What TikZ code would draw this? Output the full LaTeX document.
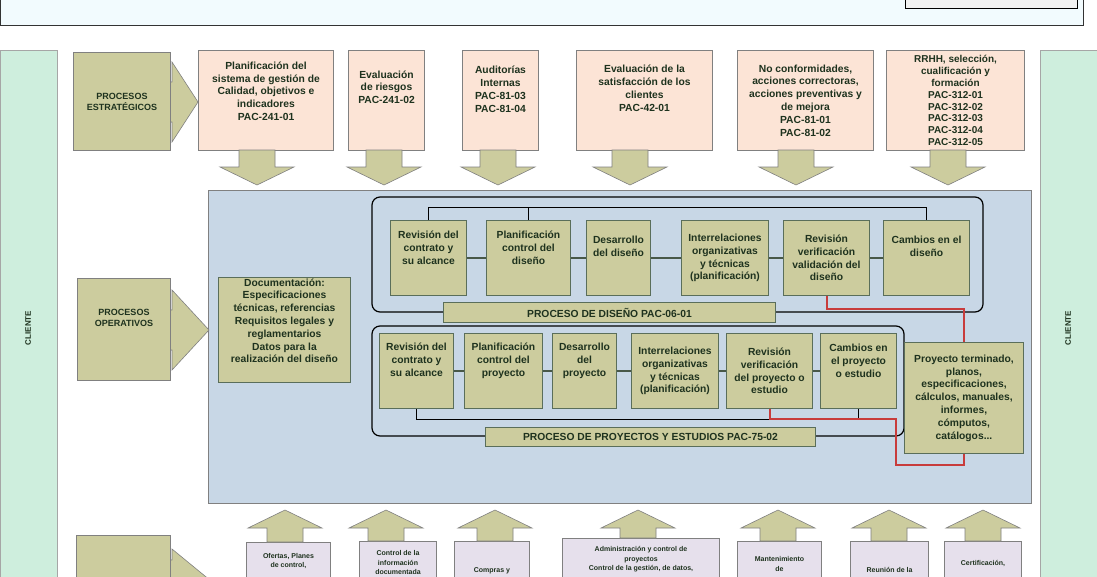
\documentclass[tikz,border=0pt]{standalone}
\usepackage{fontspec}
\setmainfont{Liberation Sans}
\usetikzlibrary{positioning}
\definecolor{khaki}{RGB}{204,204,158}
\definecolor{salmon}{RGB}{252,228,214}
\definecolor{lila}{RGB}{230,224,236}
\definecolor{azul}{RGB}{200,215,230}
\definecolor{verdec}{RGB}{206,238,221}
\definecolor{borde}{RGB}{90,110,90}
\definecolor{texto}{RGB}{30,50,30}
\definecolor{rojo}{RGB}{200,60,60}
\tikzstyle{caja} = [rectangle, draw=borde, fill=khaki, line width=1pt, text=texto, align=center, font=\bfseries\fontsize{10.3}{12.8}\selectfont, inner sep=1pt]
\tikzstyle{estrat} = [caja, fill=salmon, draw=gray]
\tikzstyle{apoyo} = [caja, fill=lila, draw=gray, font=\bfseries\fontsize{7}{9.5}\selectfont]
\tikzstyle{marco} = [draw=black, rounded corners=8pt, line width=1.2pt]
\tikzstyle{enlace} = [draw=borde!80!black, line width=1.2pt]
\tikzstyle{rojal} = [draw=rojo, line width=2pt]
\tikzstyle{flecha} = [draw=gray, fill=khaki, line width=0.6pt]
% block arrow pointing down: x, y top, y tip
\newcommand{\flechaabajo}[3]{\path[flecha] (#1-18,#2) -- (#1+18,#2) -- (#1+18,#3-18) -- (#1+37,#3-18) -- (#1,#3) -- (#1-37,#3-18) -- (#1-18,#3-18) -- cycle;}
% block arrow pointing up: x, y bottom, y tip
\newcommand{\flechaarriba}[3]{\path[flecha] (#1-18,#2) -- (#1+18,#2) -- (#1+18,#3+18) -- (#1+37,#3+18) -- (#1,#3) -- (#1-37,#3+18) -- (#1-18,#3+18) -- cycle;}
\newcommand{\pcell}[4]{\node (#1) [caja, minimum width=#3, minimum height=75pt, anchor=north west] at (#2) {#4};}

\begin{document}
\begin{tikzpicture}[x=1pt,y=-1pt]
\clip (0,0) rectangle (1097,576);
\fill[white] (0,0) rectangle (1097,576);

% cabecera
\draw[fill=cyan!5, draw=black!80, line width=1pt] (0,-10) rectangle (1083,25);
\draw[fill=black!5, draw=black] (905,-5) rectangle (1077,8);

% clientes
\node (clienteizq) [caja, fill=verdec, draw=gray!70, minimum width=57pt, minimum height=540pt, anchor=north west] at (0,50) {};
\node[rotate=90, font=\bfseries\fontsize{8}{9}\selectfont, text=texto] at (28,328) {CLIENTE};
\node (clienteder) [caja, fill=verdec, draw=gray!70, minimum width=57pt, minimum height=540pt, anchor=north west] at (1040,50) {};
\node[rotate=90, font=\bfseries\fontsize{8}{9}\selectfont, text=texto] at (1068,328) {CLIENTE};

% procesos estrategicos
\path[flecha] (160,82) -- (172,82) -- (172,62) -- (198,102) -- (172,142) -- (172,122) -- (160,122) -- cycle;
\node (estrategicos) [caja, draw=gray, minimum width=97pt, minimum height=98pt, anchor=north west, font=\bfseries\fontsize{9}{11}\selectfont] at (73,52) {PROCESOS\\ESTRATÉGICOS};
\node (planif) [estrat, minimum width=135pt, minimum height=100pt, anchor=north west] at (198,50) {Planificación del\\sistema de gestión de\\Calidad, objetivos e\\indicadores\\PAC-241-01\\[6pt]};
\node (riesgos) [estrat, minimum width=76pt, minimum height=100pt, anchor=north west] at (348,50) {Evaluación\\de riesgos\\PAC-241-02\\[14pt]};
\node (auditorias) [estrat, minimum width=76pt, minimum height=100pt, anchor=north west] at (462,50) {Auditorías\\Internas\\PAC-81-03\\PAC-81-04\\[10pt]};
\node (satisf) [estrat, minimum width=136pt, minimum height=100pt, anchor=north west] at (576,50) {Evaluación de la\\satisfacción de los\\clientes\\PAC-42-01\\[12pt]};
\node (noconf) [estrat, minimum width=136pt, minimum height=100pt, anchor=north west] at (737,50) {No conformidades,\\acciones correctoras,\\acciones preventivas y\\de mejora\\PAC-81-01\\PAC-81-02};
\node (rrhh) [estrat, minimum width=138pt, minimum height=100pt, anchor=north west, font=\bfseries\fontsize{10}{11.8}\selectfont] at (886,50) {RRHH, selección,\\cualificación y\\formación\\PAC-312-01\\PAC-312-02\\PAC-312-03\\PAC-312-04\\PAC-312-05};
\foreach \x in {257,384,498,630,796,948} {\flechaabajo{\x}{150}{185}}

% procesos operativos
\draw[fill=azul, draw=gray, line width=1pt] (208,190) rectangle (1031,503);
\path[flecha] (160,310) -- (172,310) -- (172,290) -- (209,330) -- (172,370) -- (172,350) -- (160,350) -- cycle;
\node (operativos) [caja, draw=gray, minimum width=93pt, minimum height=102pt, anchor=north west, font=\bfseries\fontsize{9}{11}\selectfont] at (77,278) {PROCESOS\\OPERATIVOS\\[12pt]};
\node (doc) [caja, minimum width=132pt, minimum height=101pt, anchor=north west] at (218,277) {Documentación:\\Especificaciones\\técnicas, referencias\\Requisitos legales y\\reglamentarios\\Datos para la\\realización del diseño\\[6pt]};

% proceso de diseno
\draw[marco] (775,312) -- (983,312) -- (983,197) -- (372,197) -- (372,312) -- (443,312);
\pcell{d1}{390,220}{76pt}{Revisión del\\contrato y\\su alcance\\[8pt]}
\pcell{d2}{486,220}{84pt}{Planificación\\control del\\diseño\\[8pt]}
\pcell{d3}{586,220}{64pt}{Desarrollo\\del diseño\\[10pt]}
\pcell{d4}{681,220}{87pt}{Interrelaciones\\organizativas\\y técnicas\\(planificación)}
\pcell{d5}{783,220}{86pt}{Revisión\\verificación\\validación del\\diseño}
\pcell{d6}{883,220}{86pt}{Cambios en el\\diseño\\[10pt]}
\foreach \a/\b in {d1/d2,d2/d3,d3/d4,d4/d5,d5/d6} {\draw[enlace] (\a) -- (\b);}
\draw[line width=1pt] (d1.north) -- ++(0,-13) -| (d6.north);
\draw[line width=1pt] (d2.north) -- ++(0,-13);
\node (bandadis) [caja, minimum width=332pt, minimum height=20pt, anchor=north west] at (443,302) {PROCESO DE DISEÑO PAC-06-01};

% proceso de proyectos
\draw[marco] (815,436) -- (904,436) -- (904,326) -- (372,326) -- (372,436) -- (485,436);
\pcell{p1}{379,333}{74pt}{Revisión del\\contrato y\\su alcance\\[10pt]}
\pcell{p2}{464,333}{78pt}{Planificación\\control del\\proyecto\\[10pt]}
\pcell{p3}{552,333}{64pt}{Desarrollo\\del\\proyecto\\[10pt]}
\pcell{p4}{631,333}{87pt}{Interrelaciones\\organizativas\\y técnicas\\(planificación)}
\pcell{p5}{726,333}{86pt}{Revisión\\verificación\\del proyecto o\\estudio}
\pcell{p6}{820,333}{76pt}{Cambios en\\el proyecto\\o estudio\\[8pt]}
\foreach \a/\b in {p1/p2,p2/p3,p3/p4,p4/p5,p5/p6} {\draw[enlace] (\a) -- (\b);}
\draw[line width=1pt] (p1.south) -- ++(0,10) -| (p6.south);
\node (bandapro) [caja, minimum width=330pt, minimum height=19pt, anchor=north west] at (485,427) {PROCESO DE PROYECTOS Y ESTUDIOS PAC-75-02};

% resultado
\node (terminado) [caja, minimum width=119pt, minimum height=111pt, anchor=north west] at (904,342) {Proyecto terminado,\\planos,\\especificaciones,\\cálculos, manuales,\\informes,\\cómputos,\\catálogos...};
\draw[rojal] (d5.south) -- ++(0,13) -| (terminado.north);
\draw[rojal] (p5.south) -- ++(0,10) -| (896,465) -| (terminado.south);

% procesos de apoyo
\path[flecha] (160,560) -- (172,560) -- (172,549) -- (222,590) -- (172,631) -- (172,620) -- (160,620) -- cycle;
\node (apoyo) [caja, draw=gray, minimum width=94pt, minimum height=100pt, anchor=north west] at (76,535) {};
\fill[lila] (246,542) rectangle (330,580) (359,541) rectangle (436,580) (454,541) rectangle (529,580) (562,538) rectangle (719,580) (737,541) rectangle (821,580) (850,541) rectangle (928,580) (944,541) rectangle (1021,580);
\node (ofertas) [apoyo, minimum width=84pt, minimum height=45pt, anchor=north west] at (246,542) {Ofertas, Planes\\de control,\\\mbox{}};
\node (controlinfo) [apoyo, minimum width=77pt, minimum height=42pt, anchor=north west] at (359,541) {Control de la\\información\\documentada};
\node (compras) [apoyo, minimum width=75pt, minimum height=45pt, anchor=north west] at (454,541) {\mbox{}\\[8pt]Compras y};
\node (admin) [apoyo, minimum width=157pt, minimum height=42pt, anchor=north west] at (562,538) {Administración y control de\\proyectos\\Control de la gestión, de datos,};
\node (manten) [apoyo, minimum width=84pt, minimum height=45pt, anchor=north west] at (737,541) {Mantenimiento\\de};
\node (reunion) [apoyo, minimum width=78pt, minimum height=45pt, anchor=north west] at (850,541) {\mbox{}\\[8pt]Reunión de la};
\node (certif) [apoyo, minimum width=77pt, minimum height=40pt, anchor=north west] at (944,541) {\mbox{}\\Certificación,};
\foreach \x/\y in {285/542,386/541,495/541,638/538,778/541,889/541,983/541} {\flechaarriba{\x}{\y}{510}}
\end{tikzpicture}
\end{document}
